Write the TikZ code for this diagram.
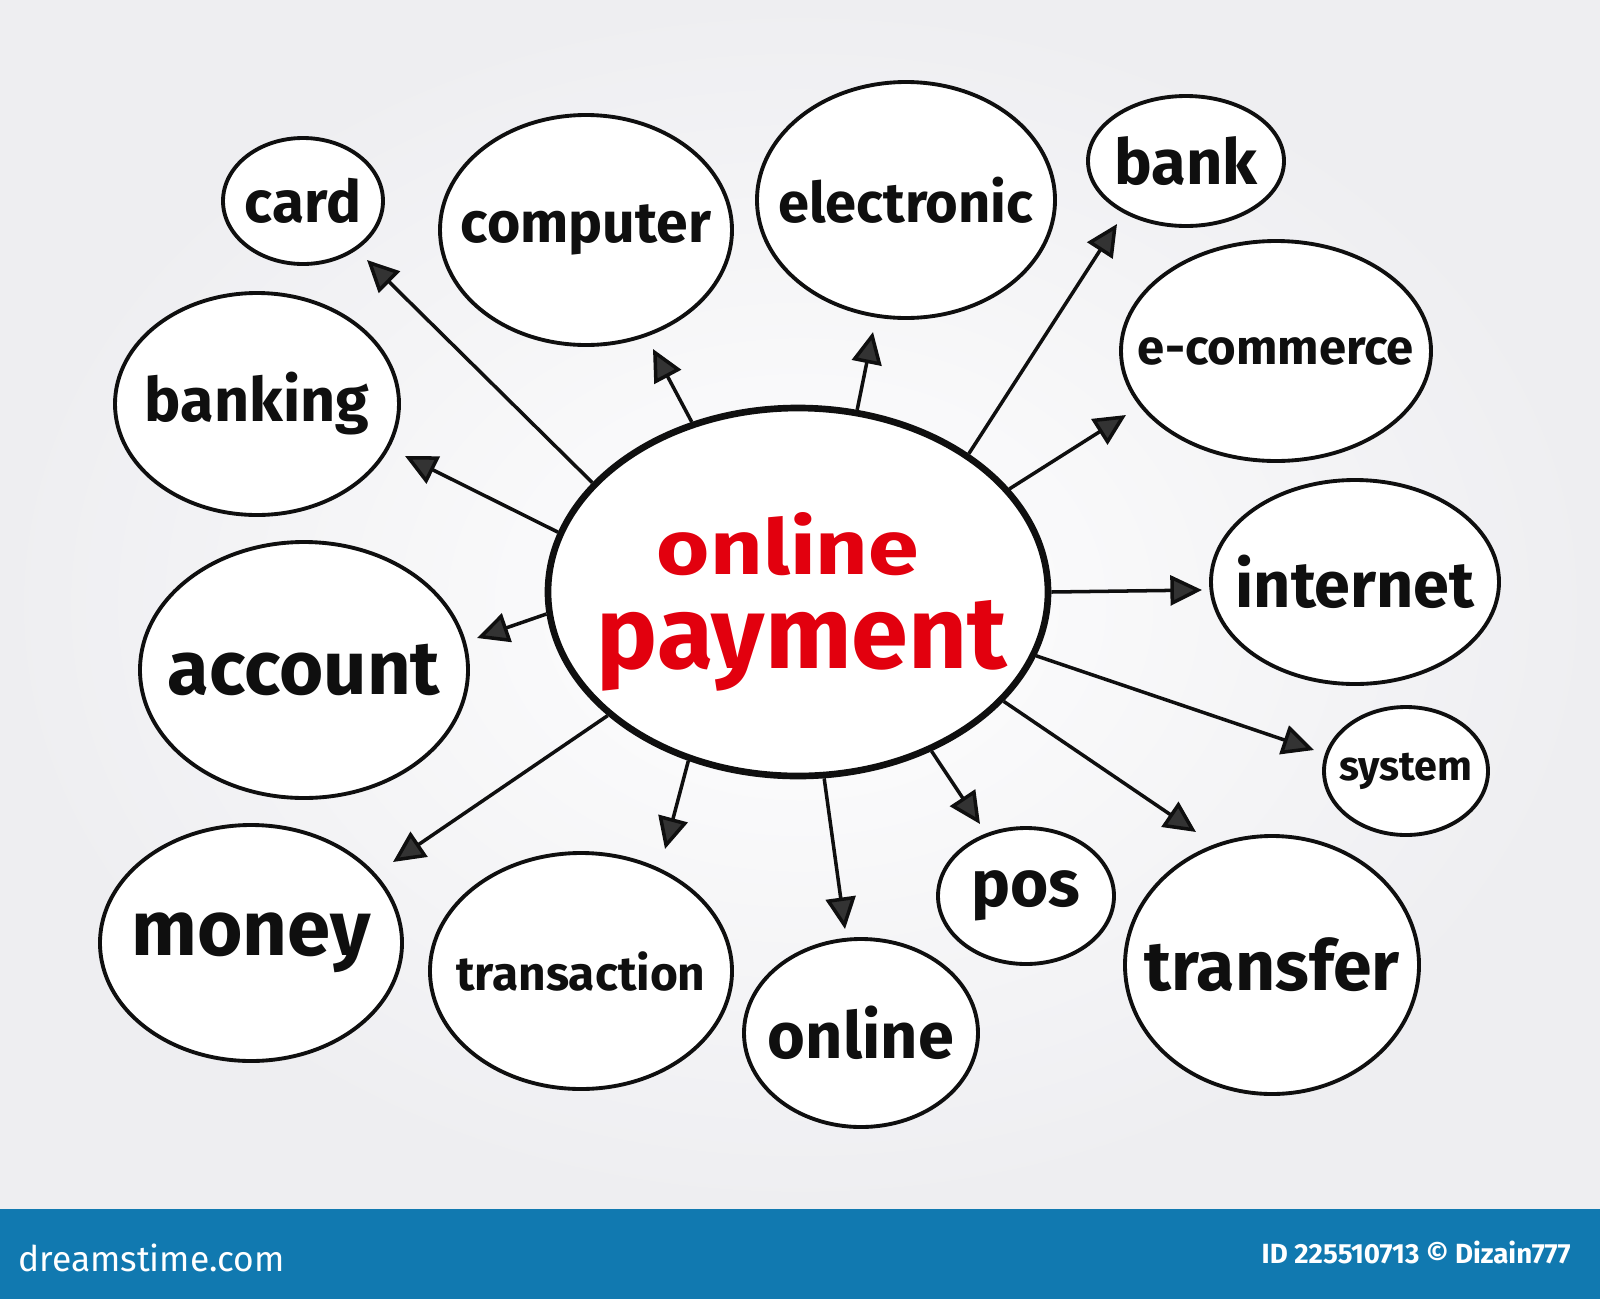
\documentclass[tikz,border=0pt]{standalone}
\usepackage{fontspec}
\setmainfont{Fira Sans}
\usetikzlibrary{shapes.geometric,arrows.meta}
\newdimen\pxu \pxu=0.02cm
\definecolor{ink}{RGB}{15,15,15}
\definecolor{opred}{RGB}{226,0,14}
\definecolor{bannerblue}{RGB}{17,121,176}
\definecolor{bgedge}{RGB}{238,238,241}
\newcommand{\fitw}[2]{\resizebox{#1\pxu}{!}{#2}}
\tikzset{
  bub/.style n args={3}{ellipse, draw=ink, line width=2.2pt, fill=white,
    minimum width=#1\pxu, minimum height=#2\pxu, inner sep=0pt,
    label={[font=\bfseries, text=ink, inner sep=0pt]center:#3}},
  conn/.style={draw=ink, line width=2pt,
    -{Triangle[length=18pt,width=17pt,fill=ink!85]}},
  redtxt/.style={anchor=base, text=opred, font=\bfseries, inner sep=0pt},
}
\begin{document}
\begin{tikzpicture}[x=1\pxu, y=-1\pxu]
\useasboundingbox (0,0) rectangle (1600,1299);
\shade[inner color=white, outer color=bgedge] (0,0) rectangle (1600,1209);
\fill[bannerblue] (0,1209) rectangle (1600,1299);

% outer bubbles
\node[bub={160}{126}{\fitw{116}{card}}] (card) at (303,201) {};
\node[bub={292}{230}{\fitw{250}{computer}}] (computer) at (586,230) {};
\node[bub={298}{236}{\fitw{255}{electronic}}] (electronic) at (906,200) {};
\node[bub={196}{130}{\fitw{143}{bank}}] (bank) at (1186,161) {};
\node[bub={310}{220}{\fitw{276}{e-commerce}}] (ecommerce) at (1276,351) {};
\node[bub={284}{222}{\fitw{224}{banking}}] (banking) at (257,404) {};
\node[bub={328}{256}{\fitw{272}{account}}] (account) at (304,670) {};
\node[bub={288}{204}{\fitw{239}{internet}}] (internet) at (1355,582) {};
\node[bub={164}{128}{\fitw{133}{system}}] (system) at (1406,771) {};
\node[bub={302}{236}{\fitw{239}{money}}] (money) at (251,943) {};
\node[bub={302}{236}{\fitw{249}{transaction}}] (transaction) at (581,971) {};
\node[bub={234}{188}{\fitw{186}{online}}] (online) at (861,1033) {};
\node[bub={176}{136}{\fitw{109}{pos}}] (pos) at (1026,896) {};
\node[bub={294}{258}{\fitw{255}{transfer}}] (transfer) at (1272,965) {};

% central bubble
\node[ellipse, draw=ink, fill=white, line width=3.8pt, inner sep=0pt,
      minimum width=500\pxu, minimum height=368\pxu] (op) at (798,592) {};
\node[redtxt] (opl1) at (788,574) {\resizebox{262\pxu}{62\pxu}{online}};
\node[redtxt] (opl2) at (802,668) {\fitw{410}{payment}};

% arrow tips
\coordinate (t-card) at (367,260);
\coordinate (t-computer) at (653,349);
\coordinate (t-electronic) at (873,332);
\coordinate (t-bank) at (1117,224);
\coordinate (t-ecommerce) at (1126,415);
\coordinate (t-banking) at (405,456);
\coordinate (t-account) at (477,638);
\coordinate (t-internet) at (1202,590);
\coordinate (t-system) at (1314,750);
\coordinate (t-transfer) at (1196,832);
\coordinate (t-pos) at (980,824);
\coordinate (t-online) at (845,929);
\coordinate (t-transaction) at (665,849);
\coordinate (t-money) at (393,862);

\draw[conn] (op.152) -- (t-card);
\draw[conn] (op.122.4) -- (t-computer);
\draw[conn] (op.72) -- (t-electronic);
\draw[conn] (op.39.9) -- (t-bank);
\draw[conn] (op.26.8) -- (t-ecommerce);
\draw[conn] (op.166.5) -- (t-banking);
\draw[conn] (op.185.5) -- (t-account);
\draw[conn] (op.0.5) -- (t-internet);
\draw[conn] (op.-15.3) -- (t-system);
\draw[conn] (op.-28) -- (t-transfer);
\draw[conn] (op.-50.2) -- (t-pos);
\draw[conn] (op.-82.3) -- (t-online);
\draw[conn] (op.237.2) -- (t-transaction);
\draw[conn] (op.213.8) -- (t-money);

% banner
\node[anchor=base west, text=white, inner sep=0pt] (ds) at (18,1271) {\fitw{266}{dreamstime.com}};
\node[anchor=base east, text=white, inner sep=0pt, font=\bfseries] (idtxt) at (1571,1263) {\fitw{309}{ID 225510713 © Dizain777}};
\end{tikzpicture}
\end{document}
